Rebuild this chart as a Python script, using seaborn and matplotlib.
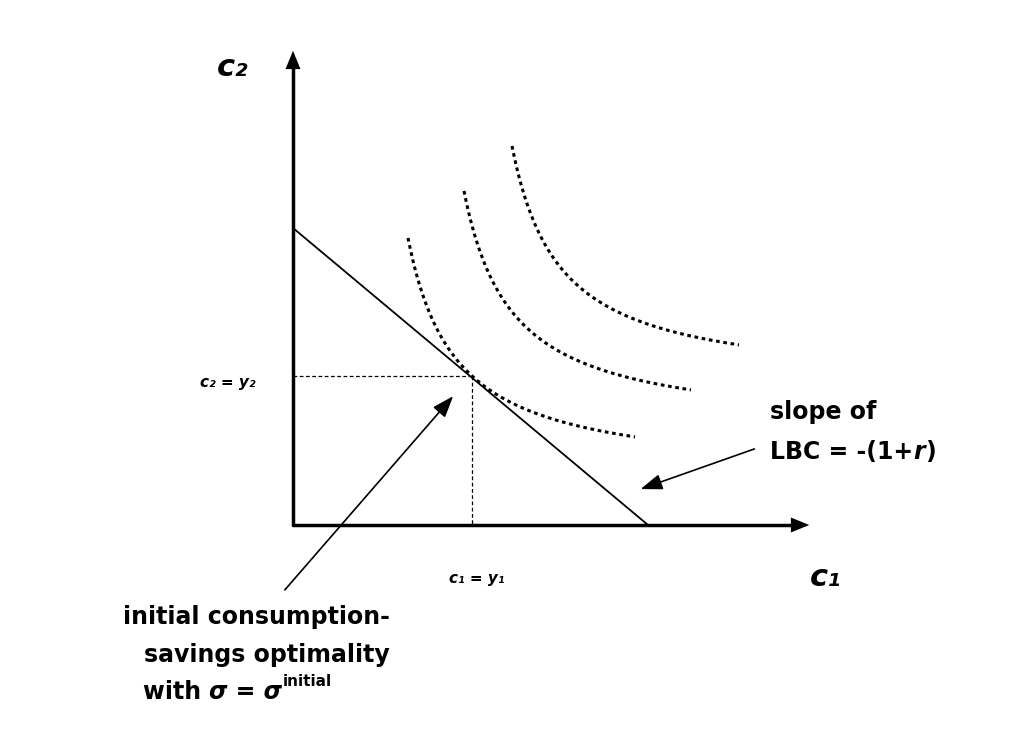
import numpy as np
import matplotlib
matplotlib.use("Agg")
import matplotlib.pyplot as plt
import seaborn as sns
import pandas as pd

sns.set_theme(style="white")
plt.rcParams['font.family'] = ['DejaVu Sans']
plt.rcParams['text.color'] = 'black'

# diagram geometry in pixel-like units (y measured downward)
origin = (293, 525)
y_axis_top = 48
x_axis_right = 812
budget_x = [293, 648]
budget_y = [228, 525]
optimum = (472, 376)
# indifference curve: Y_up = a + k/(x-b), drawn from x_start to x_end
ic_a, ic_k, ic_b = 46.4, 11454.0, 360.4
ic_range = (408, 635)
ic_shifts_x = [0, 56, 104]
ic_shifts_y = [0, 47, 92]

fig = plt.figure(figsize=(10.1, 7.4), dpi=100)
ax = fig.add_axes([0, 0, 1, 1])
ax.set_xlim(0, 1010); ax.set_ylim(740, 0); ax.axis('off')
renderer = fig.canvas.get_renderer()

def seq(x, y, parts):
    """Draw text pieces one after another; parts = (text, size, style, dy)."""
    for txt, size, style, dy in parts:
        t = ax.text(x, y + dy, txt, fontsize=size, fontweight='bold', fontstyle=style,
                    ha='left', va='center', color='black')
        bb = t.get_window_extent(renderer)
        x += bb.width * 1010 / fig.bbox.width

# axes with arrows
ax.plot([origin[0], origin[0]], [origin[1], y_axis_top + 15], color='black', lw=2.5)
ax.plot([origin[0], x_axis_right - 15], [origin[1], origin[1]], color='black', lw=2.5)
ax.annotate('', xy=(origin[0], y_axis_top), xytext=(origin[0], y_axis_top + 22),
            arrowprops=dict(arrowstyle='-|>,head_width=0.45,head_length=1.1', color='black', lw=0))
ax.annotate('', xy=(x_axis_right, origin[1]), xytext=(x_axis_right - 22, origin[1]),
            arrowprops=dict(arrowstyle='-|>,head_width=0.45,head_length=1.1', color='black', lw=0))

# budget line
sns.lineplot(x=budget_x, y=budget_y, ax=ax, color='black', lw=1.3, sort=False)

# dashed guides
ax.plot([origin[0], optimum[0]], [optimum[1], optimum[1]], color='black', lw=0.9, ls=(0, (3, 2)))
ax.plot([optimum[0], optimum[0]], [optimum[1], origin[1]], color='black', lw=0.9, ls=(0, (3, 2)))

# indifference curves
xs = np.linspace(ic_range[0], ic_range[1], 200)
for dx, dy in zip(ic_shifts_x, ic_shifts_y):
    yup = ic_a + ic_k / (xs - ic_b) + dy
    df = pd.DataFrame({'x': xs + dx, 'y': origin[1] - yup})
    sns.lineplot(data=df, x='x', y='y', ax=ax, color='black', lw=2.2, ls=(0, (1.2, 1.2)), sort=False)

# labels
ax.text(233, 68, 'c₂', fontsize=22, fontweight='bold', fontstyle='italic', ha='center', va='center')
ax.text(826, 577, 'c₁', fontsize=22, fontweight='bold', fontstyle='italic', ha='center', va='center')
ax.text(228, 383, 'c₂ = y₂', fontsize=11, fontweight='bold', fontstyle='italic', ha='center', va='center')
ax.text(477, 578, 'c₁ = y₁', fontsize=11, fontweight='bold', fontstyle='italic', ha='center', va='center')
ax.text(770, 412, 'slope of', fontsize=17, fontweight='bold', ha='left', va='center')
seq(770, 452, [('LBC = -(1+', 17, 'normal', 0), ('r', 17, 'italic', 0), (')', 17, 'normal', 0)])
ax.text(390, 617, 'initial consumption-', fontsize=17, fontweight='bold', ha='right', va='center')
ax.text(390, 655, 'savings optimality', fontsize=17, fontweight='bold', ha='right', va='center')
seq(143, 692, [('with ', 17, 'normal', 0), ('σ = σ', 17, 'italic', 0), ('initial', 11, 'normal', -10)])

# arrows
ax.annotate('', xy=(638, 490), xytext=(757, 448),
            arrowprops=dict(arrowstyle='-|>,head_width=0.4,head_length=1.1', color='black', lw=1.2))
ax.annotate('', xy=(455, 394), xytext=(283, 592),
            arrowprops=dict(arrowstyle='-|>,head_width=0.4,head_length=1.1', color='black', lw=1.2))

fig.savefig('out.png', dpi=100, facecolor='white')
